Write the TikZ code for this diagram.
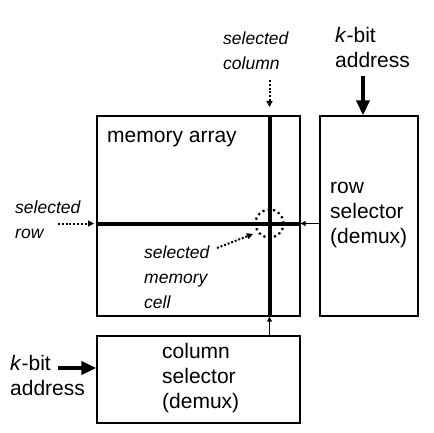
\documentclass[tikz,border=0pt]{standalone}
\usepackage{fontspec}
\setmainfont{Liberation Sans}
\usetikzlibrary{arrows.meta}
\begin{document}
\begin{tikzpicture}[x=1pt,y=-1pt,line cap=butt]
	\tikzstyle{blok}=[draw,line width=1.3pt,inner sep=0pt];
	\tikzstyle{lbl}=[anchor=base west,align=left,inner sep=0pt,font=\fontsize{21}{25}\selectfont];
	\tikzstyle{ilbl}=[anchor=base west,align=left,inner sep=0pt,font=\fontsize{17.5}{25}\selectfont\itshape];
	\tikzstyle{bus}=[line width=4.5pt,-{Triangle[length=15pt,width=13pt]}];
	\tikzstyle{hint}=[line width=2pt,dash pattern=on 2pt off 1.8pt,-{Triangle[length=6pt,width=6pt]}];
	\tikzstyle{feed}=[line width=1.5pt,-{Triangle[length=5pt,width=5pt]}];
	\tikzstyle{sel}=[line width=4pt];

	\useasboundingbox (0,0) rectangle (433,433);
	\node[blok,minimum width=203pt,minimum height=200pt] (array)  at (198.5,216)   {};
	\node[blok,minimum width=98pt,minimum height=200pt]  (rowsel) at (369,216)     {};
	\node[blok,minimum width=203pt,minimum height=87pt]  (colsel) at (198.5,379.5) {};
	\coordinate (cx) at (269.5,0);
	\coordinate (ry) at (0,223.5);
	\coordinate (colhintA)  at (269.5,80);
	\coordinate (colhintB)  at (269.5,107);
	\coordinate (rowhintA)  at (58,223.5);
	\coordinate (rowhintB)  at (94,223.5);
	\coordinate (cellhintA) at (217,248);
	\coordinate (cellhintB) at (253,234);
	\coordinate (addrA)     at (363,76);
	\coordinate (addrB)     at (58,368);

	\draw[sel] (array.north -| cx) -- (array.south -| cx);
	\draw[sel] (array.west |- ry) -- (array.east |- ry);
	\draw[feed] (rowsel.west |- ry) -- (array.east |- ry);
	\draw[feed] (colsel.north -| cx) -- (array.south -| cx);
	\node[draw,circle,line width=2.2pt,dash pattern=on 2.2pt off 3.2pt,minimum size=28pt,inner sep=0pt] (cell) at (cx |- ry) {};
	\draw[hint] (colhintA) -- (colhintB);
	\draw[hint] (rowhintA) -- (rowhintB);
	\draw[hint] (cellhintA) -- (cellhintB);
	\draw[bus] (addrA) -- (rowsel.north -| addrA);
	\draw[bus] (addrB) -- (colsel.west |- addrB);

	\node[ilbl] (colname)    at (223,70)  {selected\\column};
	\node[lbl]  (addrtop)    at (335,68)  {\textit{k}-bit\\address};
	\node[lbl]  (arrname)    at (107,142) {memory array};
	\node[lbl]  (rowname)    at (330,243) {row\\selector\\(demux)};
	\node[ilbl] (rowhint)    at (15,238)  {selected\\row};
	\node[ilbl] (cellname)   at (144,308) {selected\\memory\\cell};
	\node[lbl]  (colselname) at (162,408) {column\\selector\\(demux)};
	\node[lbl]  (addrbot)    at (10,395)  {\textit{k}-bit\\address};
\end{tikzpicture}
\end{document}
